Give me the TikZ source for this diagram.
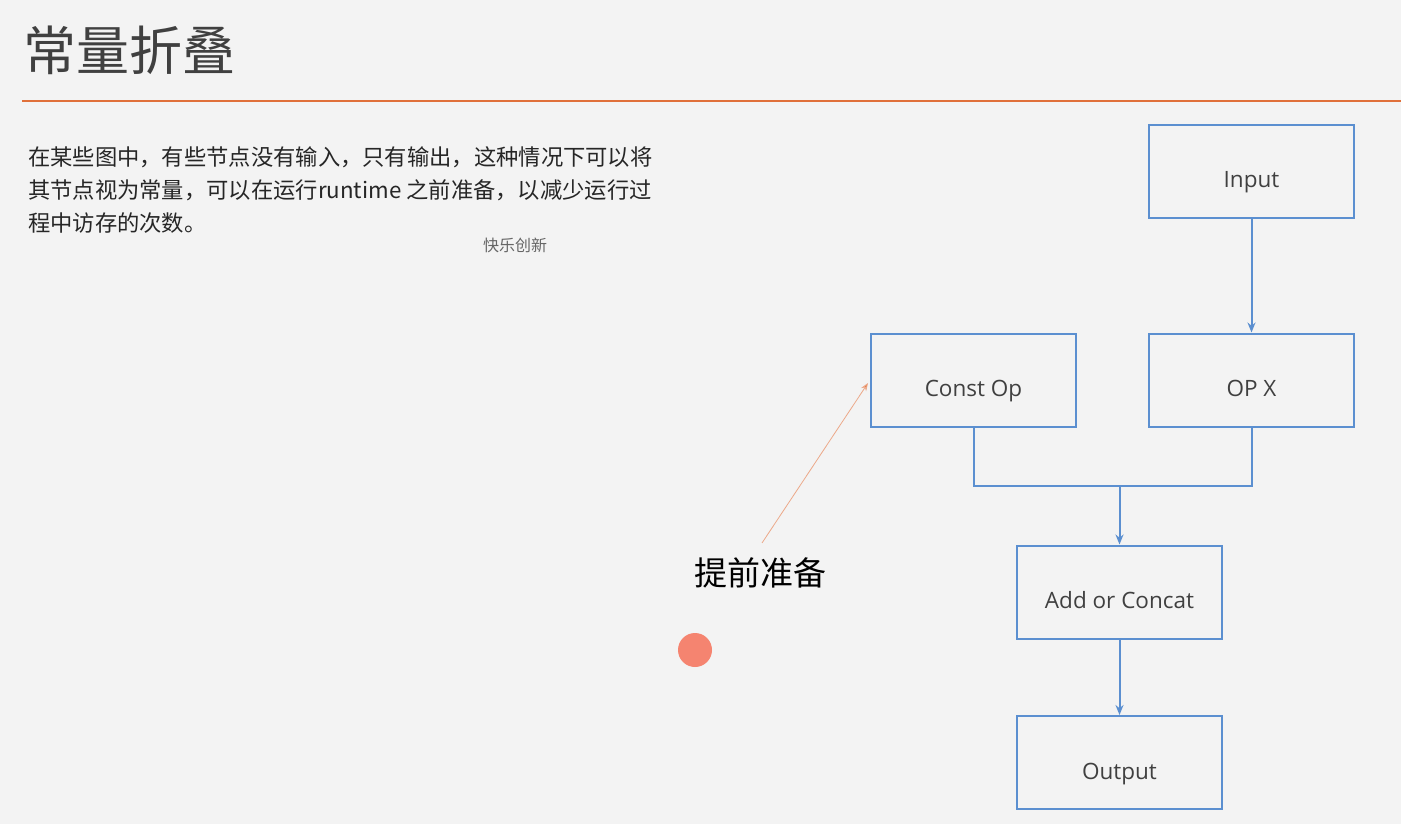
\documentclass[tikz,border=0pt]{standalone}
\usepackage{fontspec}
\setmainfont{Open Sans}
\newfontfamily\cjk{Noto Sans CJK SC}
\usetikzlibrary{arrows.meta}
\definecolor{bg}{HTML}{F3F3F3}
\definecolor{bl}{HTML}{5B8FD0}
\definecolor{org}{HTML}{E0703A}
\definecolor{dot}{HTML}{F58470}
\tikzset{box/.style={draw=bl,line width=2pt,minimum width=205pt,minimum height=93pt,font=\fontsize{22.5pt}{26pt}\selectfont,text=black!75,text depth=0pt,text height=33pt},
conn/.style={bl,line width=2pt},
arr/.style={conn,-{Stealth[length=10pt,width=8pt]}}}
\begin{document}
\begin{tikzpicture}[x=1pt,y=-1pt]
\fill[bg] (0,0) rectangle (1401,824);
\useasboundingbox (0,0) rectangle (1401,824);
\node[anchor=west,font=\cjk\fontsize{53pt}{56pt}\selectfont,text=black!75] (title) at (20,50) {常量折叠};
\draw[org,line width=2.5pt] (22,101) -- (1401,101);
\node[anchor=north west,align=left,font=\cjk\fontsize{22.3pt}{33pt}\selectfont,text=black!85,inner sep=0pt] (desc) at (28,146) {在某些图中，有些节点没有输入，只有输出，这种情况下可以将\\其节点视为常量，可以在运行runtime 之前准备，以减少运行过\\程中访存的次数。};
\node[font=\cjk\fontsize{16pt}{18pt}\selectfont,text=black!60] (wm) at (515,245) {快乐创新};
\node[box] (in) at (1251.5,171.5) {Input};
\node[box] (cop) at (973.5,380) {Const Op};
\node[box] (opx) at (1251.5,380) {OP X};
\node[box] (add) at (1119.5,592) {Add or Concat};
\node[box] (out) at (1119.5,762.5) {Output};
\draw[arr] (in) -- (opx);
\coordinate (j) at (1119.5,486);
\draw[conn] (cop.south) |- (j) -| (opx.south);
\draw[arr] (j) -- (add);
\draw[arr] (add) -- (out);
\node[font=\cjk\fontsize{33pt}{36pt}\selectfont] (prep) at (760,573) {提前准备};
\coordinate (ps) at (762,543);
\draw[org!60,line width=0.8pt,-{Stealth[length=8pt,width=6pt,fill=org]}] (ps) -- (868,383) ;
\fill[dot] (695,650) circle (17);
\end{tikzpicture}
\end{document}
